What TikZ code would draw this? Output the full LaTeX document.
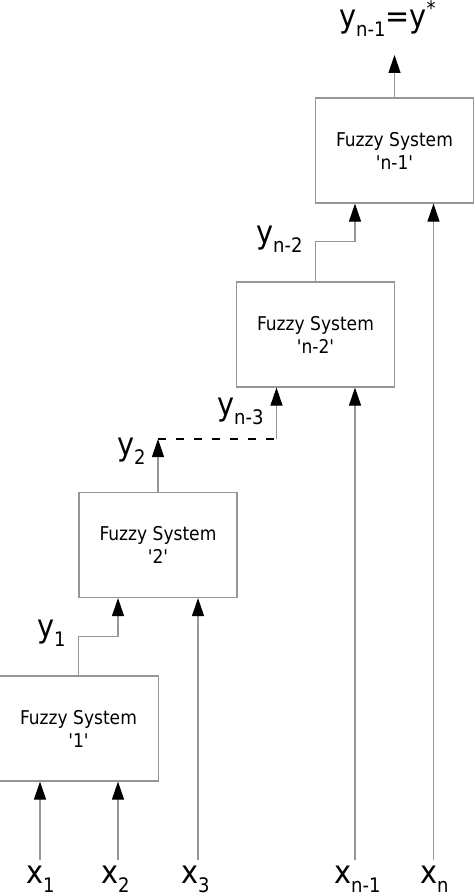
\documentclass[tikz,border=0pt]{standalone}
\usepackage{fontspec}
\setmainfont{DejaVu Sans Condensed}[Ligatures=TeXOff]
\usetikzlibrary{arrows.meta,calc}
\definecolor{linegray}{RGB}{150,150,150}
\newcommand\vsub[2]{#1\raisebox{-9pt}{\fontsize{20}{20}\selectfont #2}}
\newcommand\vsup[2]{#1\raisebox{12pt}{\fontsize{20}{20}\selectfont #2}}
\begin{document}
\begin{tikzpicture}[x=1pt,y=-1pt,
  fsbox/.style={draw=linegray, line width=1.2pt, minimum width=158pt, minimum height=105pt, inner sep=0pt, align=center, font=\fontsize{19}{23}\selectfont},
  arr/.style={draw=linegray, line width=1.2pt, -{Triangle[length=18pt,width=12pt,color=black]}},
  var/.style={inner sep=0pt, anchor=base west, font=\fontsize{32}{32}\selectfont},
  dots/.style={draw=black, line width=2.5pt, dash pattern=on 8pt off 10pt}
]
\useasboundingbox (0,0) rectangle (474,896);
% boxes
\node[fsbox, minimum width=160pt] (b1) at (78.5,728.5) {Fuzzy System\\'1'};
\node[fsbox] (b2) at (158,545) {Fuzzy System\\'2'};
\node[fsbox] (bn2) at (315.5,334.5) {Fuzzy System\\'n-2'};
\node[fsbox] (bn1) at (394.5,150.5) {Fuzzy System\\'n-1'};
% labels
\node[var] (x1) at (26,883) {\vsub{x}{1}};
\node[var] (x2) at (101,883) {\vsub{x}{2}};
\node[var] (x3) at (181,883) {\vsub{x}{3}};
\node[var] (xn1) at (334,883) {\vsub{x}{n-1}};
\node[var] (xn) at (420,883) {\vsub{x}{n}};
\node[var] (y1) at (37,637) {\vsub{y}{1}};
\node[var] (y2) at (117,455) {\vsub{y}{2}};
\node[var] (yn3) at (217,415) {\vsub{y}{n-3}};
\node[var] (yn2) at (256,243) {\vsub{y}{n-2}};
\node[var] (yn1) at (339,28) {\vsub{y}{n-1}=\vsup{y}{*}};
% free ends
\coordinate (x1c) at (40,860);
\coordinate (x2c) at (118,860);
\coordinate (x3c) at (198,860);
\coordinate (xn1c) at (355,860);
\coordinate (xnc) at (433.5,860);
\coordinate (y2c) at (158,439);
\coordinate (yn3c) at (276.5,439);
\coordinate (outc) at (394.5,55);
% connectors
\draw[arr] (x1c) -- (x1c |- b1.south);
\draw[arr] (x2c) -- (x2c |- b1.south);
\draw[arr] (x3c) -- (x3c |- b2.south);
\draw[arr] (xn1c) -- (xn1c |- bn2.south);
\draw[arr] (xnc) -- (xnc |- bn1.south);
\draw[arr] (b1.north) -- ++(0,-39) -| ($(b2.south)+(-40,0)$);
\draw[arr] (b2.north) -- (y2c);
\draw[dots] (y2c) -- (yn3c);
\draw[arr] (yn3c) -- (yn3c |- bn2.south);
\draw[arr] (bn2.north) -- ++(0,-40) -| ($(bn1.south)+(-39.5,0)$);
\draw[arr] (bn1.north) -- (outc);
\end{tikzpicture}
\end{document}
